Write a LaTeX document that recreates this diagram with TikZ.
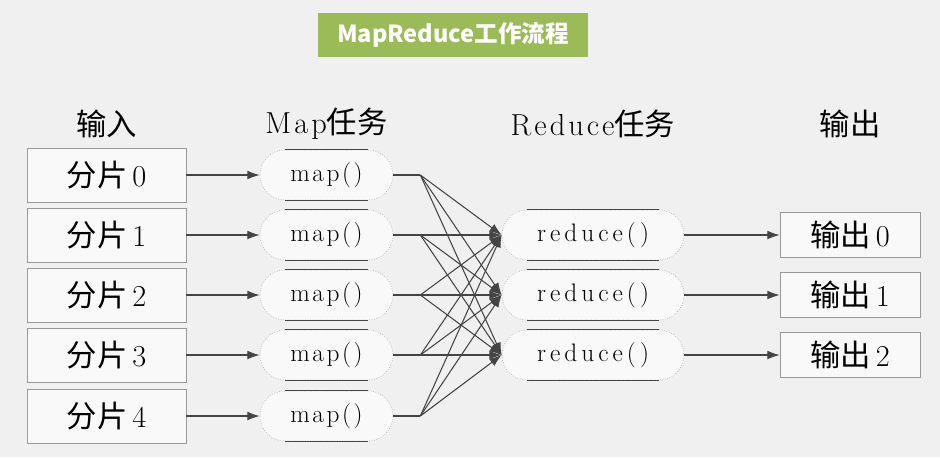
\documentclass[tikz,border=0pt]{standalone}
\usepackage{fontspec}
\newfontfamily\cjk{Noto Sans CJK SC}
\newfontfamily\spaced{Latin Modern Roman}[LetterSpace=10]
\newfontfamily\wider{Latin Modern Roman}[LetterSpace=16]
\usetikzlibrary{positioning,shapes.misc,arrows.meta}
\definecolor{bg}{HTML}{F0F0F0}
\definecolor{boxfill}{HTML}{F9F9F9}
\definecolor{titlegreen}{HTML}{9BBB59}
\definecolor{linegray}{HTML}{444444}

\begin{document}
\begin{tikzpicture}[font=\LARGE, >={Latex[length=7pt,width=5pt]},
  split/.style={draw=gray!80, fill=boxfill, minimum width=3.18cm, minimum height=1.08cm, inner sep=0pt},
  outbox/.style={draw=gray!80, fill=boxfill, minimum width=2.8cm, minimum height=0.9cm, inner sep=0pt},
  task/.style={rounded rectangle, draw=gray!60, densely dotted, fill=boxfill, minimum height=1cm, inner sep=0pt, font=\Large},
  head/.style={font=\LARGE},
  edge/.style={draw=linegray, line width=0.6pt}]
  \useasboundingbox[fill=bg] (0,0) rectangle (18.8,-9.14);
  % title
  \node[fill=titlegreen, text=white, minimum width=5.4cm, minimum height=0.88cm] (title) at (9.06,-0.7) {\cjk\bfseries\fontsize{13.4}{16}\selectfont MapReduce工作流程};
  % column headings
  \node[head] (hin) at (2.13,-2.48) {\cjk 输入};
  \node[head] (hmap) at (6.53,-2.48) {\spaced Map{\cjk 任务}};
  \node[head] (hred) at (11.86,-2.48) {\spaced Reduce{\cjk 任务}};
  \node[head] (hout) at (17.0,-2.48) {\cjk 输出};
  % input splits
  \node[split] (s0) at (2.13,-3.5) {{\cjk 分片}\,0};
  \node[split] (s1) at (2.13,-4.7) {{\cjk 分片}\,1};
  \node[split] (s2) at (2.13,-5.9) {{\cjk 分片}\,2};
  \node[split] (s3) at (2.13,-7.1) {{\cjk 分片}\,3};
  \node[split] (s4) at (2.13,-8.32) {{\cjk 分片}\,4};
  % map tasks
  \node[task, minimum width=2.66cm] (m0) at (6.53,-3.5) {\spaced map()};
  \node[task, minimum width=2.66cm] (m1) at (6.53,-4.7) {\spaced map()};
  \node[task, minimum width=2.66cm] (m2) at (6.53,-5.9) {\spaced map()};
  \node[task, minimum width=2.66cm] (m3) at (6.53,-7.1) {\spaced map()};
  \node[task, minimum width=2.66cm] (m4) at (6.53,-8.32) {\spaced map()};
  % reduce tasks
  \node[task, minimum width=3.64cm] (r0) at (11.86,-4.7) {\wider reduce()};
  \node[task, minimum width=3.64cm] (r1) at (11.86,-5.9) {\wider reduce()};
  \node[task, minimum width=3.64cm] (r2) at (11.86,-7.1) {\wider reduce()};
  % outputs
  \node[outbox] (o0) at (17.0,-4.7) {{\cjk 输出}\,0};
  \node[outbox] (o1) at (17.0,-5.9) {{\cjk 输出}\,1};
  \node[outbox] (o2) at (17.0,-7.1) {{\cjk 输出}\,2};
  % solid top and bottom edges of the task shapes
  \foreach \n in {m0,m1,m2,m3,m4} {
    \draw[edge, line width=0.8pt] ([xshift=-0.83cm]\n.north) -- ([xshift=0.83cm]\n.north);
    \draw[edge, line width=0.8pt] ([xshift=-0.83cm]\n.south) -- ([xshift=0.83cm]\n.south);
  }
  \foreach \n in {r0,r1,r2} {
    \draw[edge, line width=0.8pt] ([xshift=-1.32cm]\n.north) -- ([xshift=1.32cm]\n.north);
    \draw[edge, line width=0.8pt] ([xshift=-1.32cm]\n.south) -- ([xshift=1.32cm]\n.south);
  }
  % splits to maps
  \foreach \i in {0,...,4} {
    \draw[edge, ->] (s\i.east) -- (m\i.west);
    \coordinate (f\i) at ([xshift=0.54cm]m\i.east);
    \draw[edge] (m\i.east) -- (f\i);
  }
  % shuffle
  \foreach \i in {0,...,4} {
    \foreach \j in {0,1,2} {
      \draw[edge, ->] (f\i) -- (r\j.west);
    }
  }
  % reduces to outputs
  \draw[edge, ->] (r0.east) -- (o0.west);
  \draw[edge, ->] (r1.east) -- (o1.west);
  \draw[edge, ->] (r2.east) -- (o2.west);
\end{tikzpicture}
\end{document}
